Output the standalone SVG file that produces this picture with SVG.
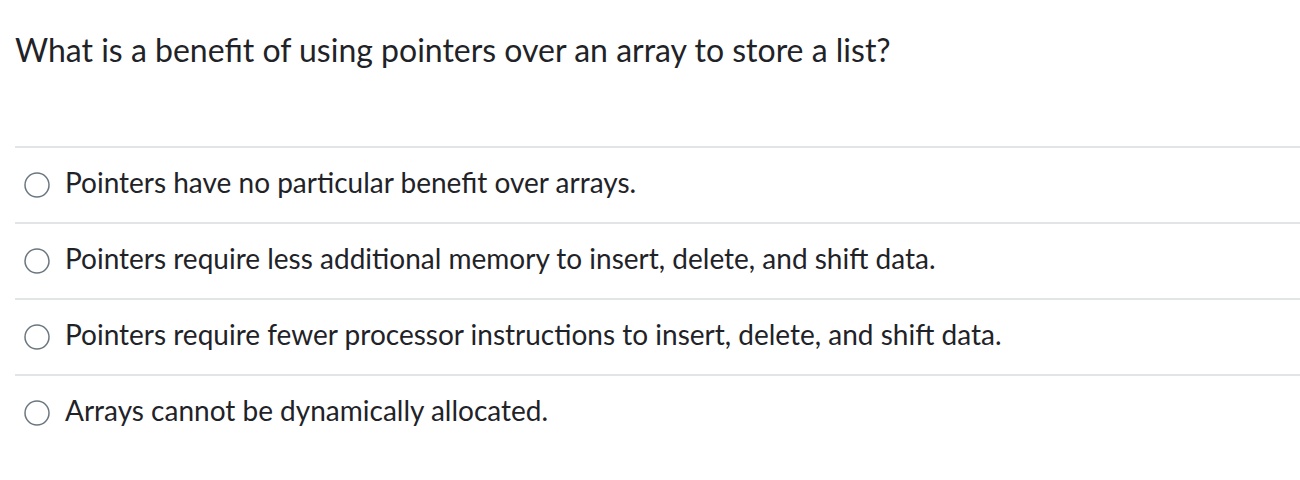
<svg xmlns="http://www.w3.org/2000/svg" width="1300" height="480" viewBox="0 0 1300 480">
<style>
.q{font-family:Lato,"Liberation Sans",sans-serif;font-size:32px;fill:#1f2328}
.o{font-family:Lato,"Liberation Sans",sans-serif;font-size:28px;fill:#1f2328}
.sep{stroke:#d9dcde;stroke-width:1.5}
.r{fill:#fff;stroke:#6b7780;stroke-width:1.5}
</style>
<rect width="1300" height="480" fill="#fff"/>
<text class="q" x="15" y="62">What is a benefit of using pointers over an array to store a list?</text>
<g id="separators">
<line class="sep" x1="15" y1="147" x2="1300" y2="147"/>
<line class="sep" x1="15" y1="223" x2="1300" y2="223"/>
<line class="sep" x1="15" y1="299" x2="1300" y2="299"/>
<line class="sep" x1="15" y1="375" x2="1300" y2="375"/>
</g>
<g id="opt1"><circle class="r" cx="37" cy="185" r="12"/><text class="o" x="65" y="193">Pointers have no particular benefit over arrays.</text></g>
<g id="opt2"><circle class="r" cx="37" cy="261" r="12"/><text class="o" x="65" y="269">Pointers require less additional memory to insert, delete, and shift data.</text></g>
<g id="opt3"><circle class="r" cx="37" cy="337" r="12"/><text class="o" x="65" y="345">Pointers require fewer processor instructions to insert, delete, and shift data.</text></g>
<g id="opt4"><circle class="r" cx="37" cy="413" r="12"/><text class="o" x="65" y="421">Arrays cannot be dynamically allocated.</text></g>
</svg>
